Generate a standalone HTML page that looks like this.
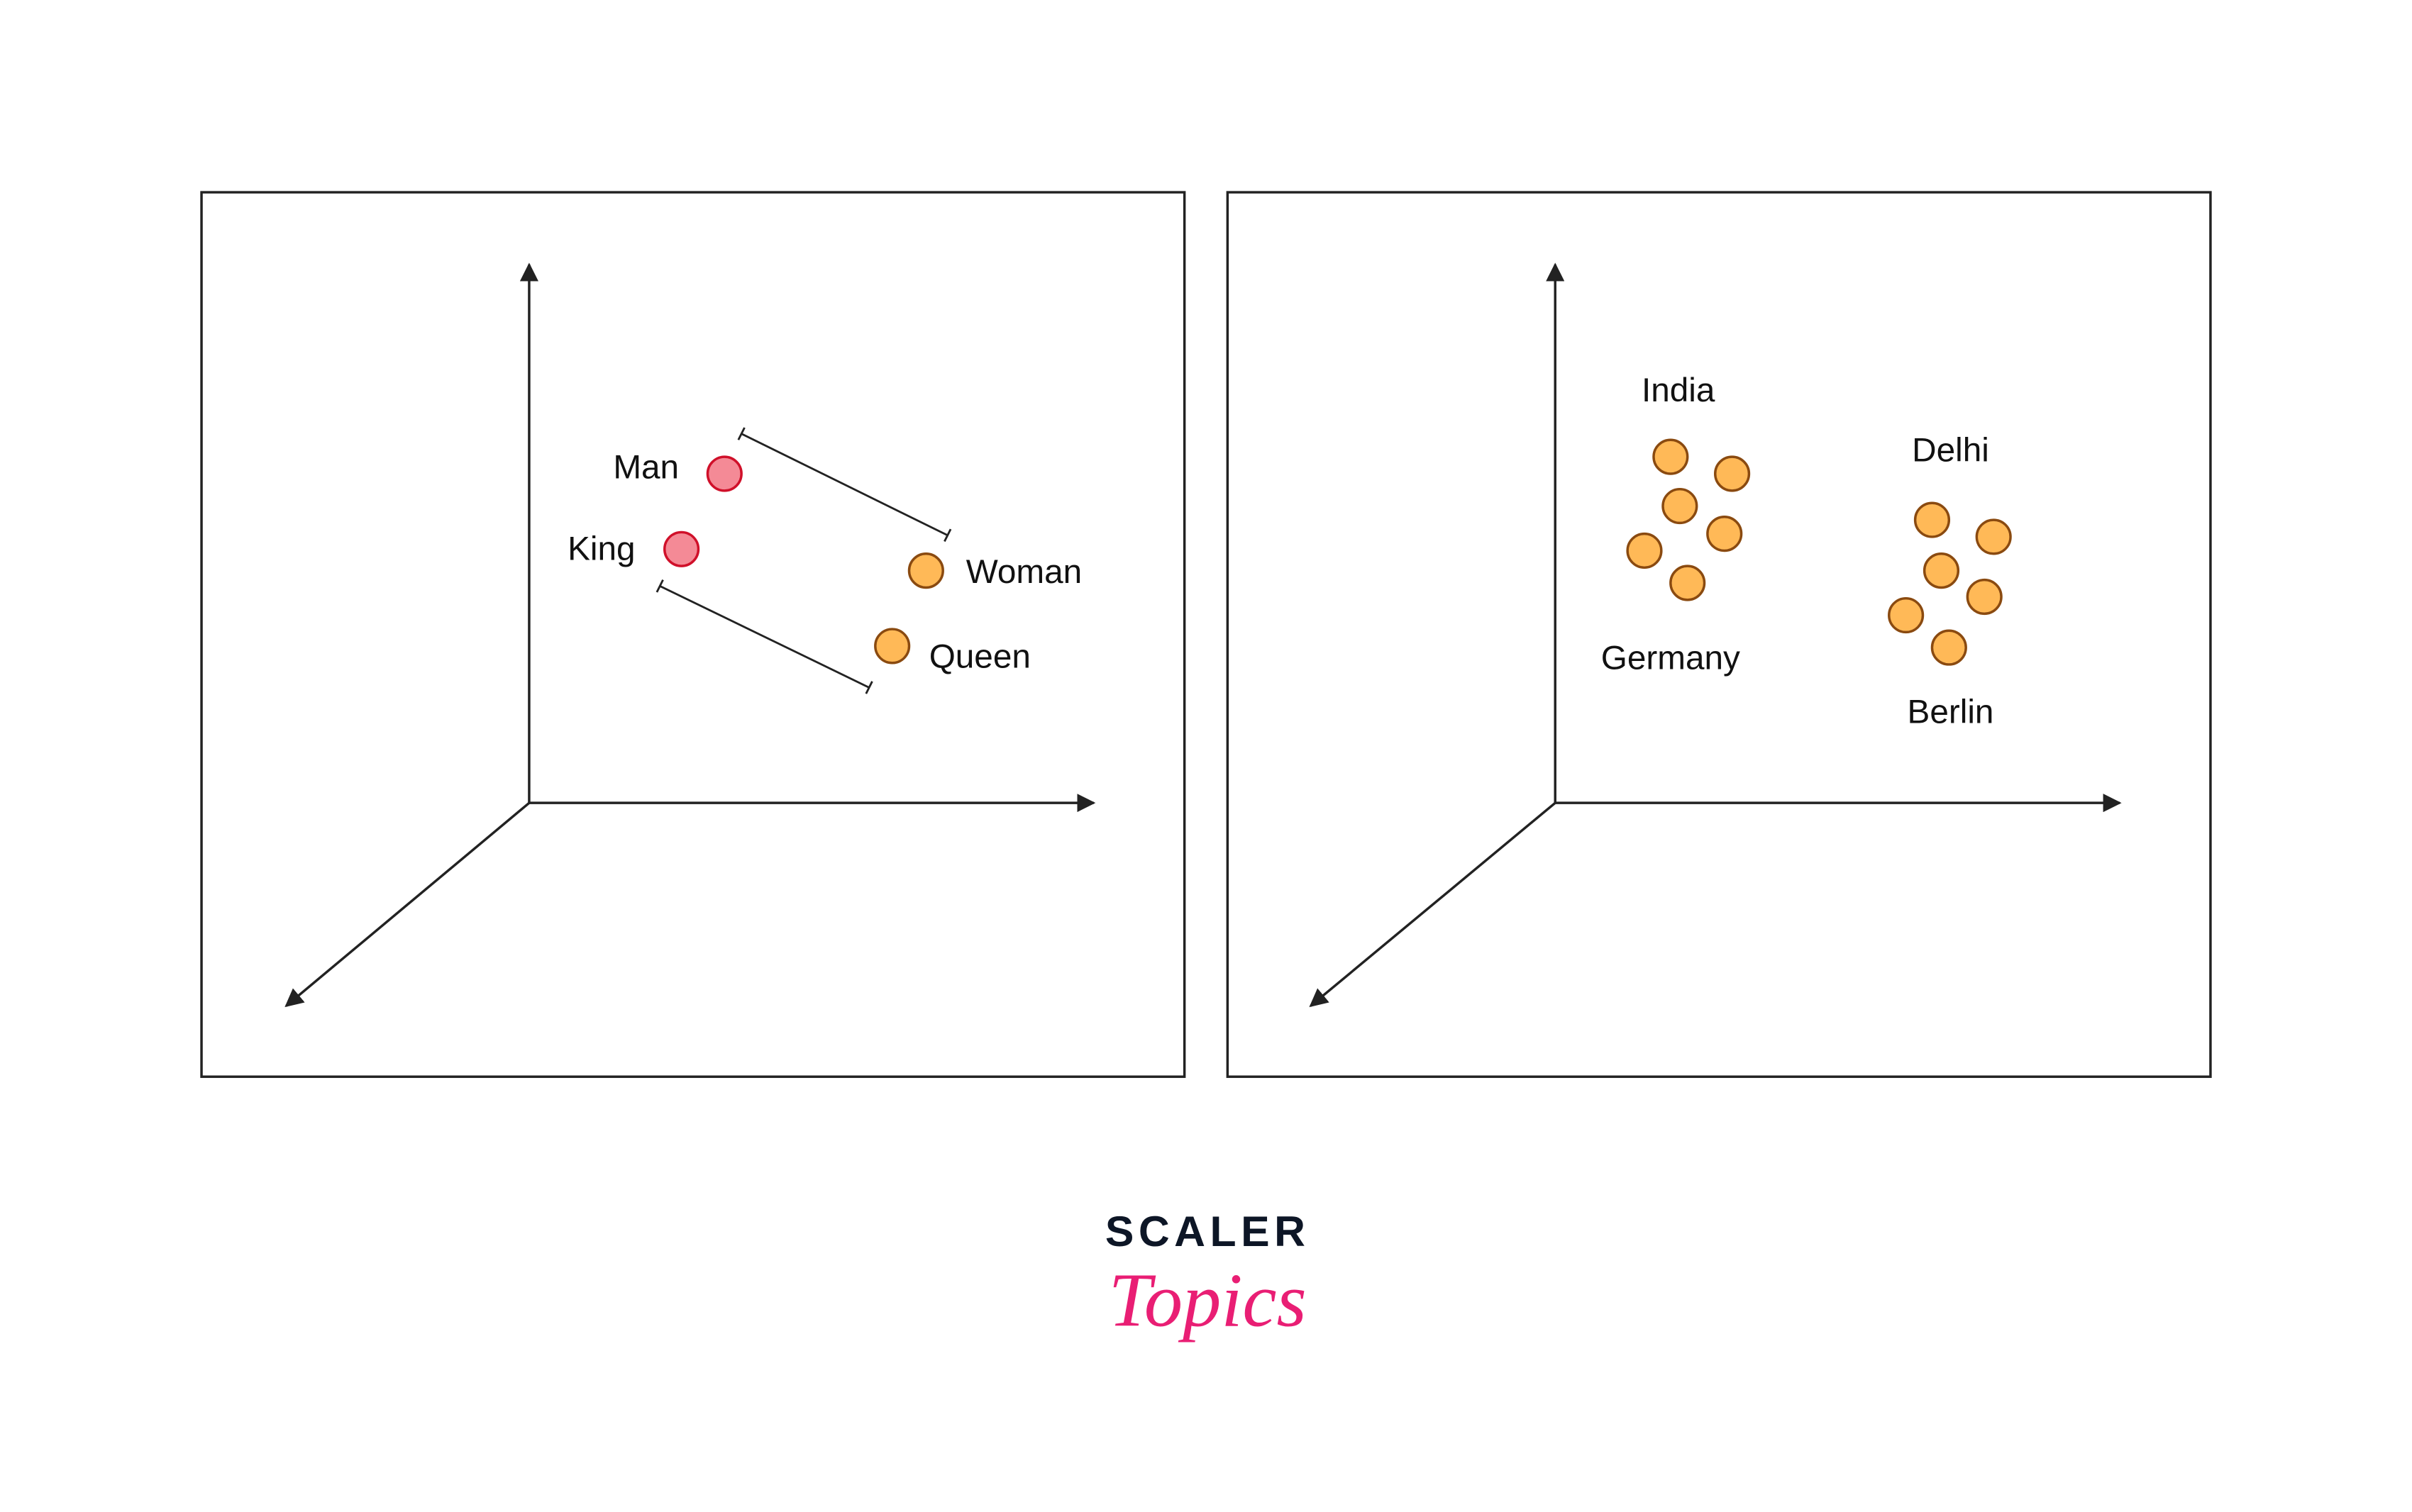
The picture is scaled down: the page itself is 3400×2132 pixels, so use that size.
<!DOCTYPE html>
<html><head><meta charset="utf-8"><style>
html,body{margin:0;padding:0;background:#fff;}
svg{display:block;}
text{font-family:"Liberation Sans",sans-serif;}
</style></head><body>
<svg width="3400" height="2132" viewBox="0 0 1568 983" preserveAspectRatio="none" xmlns="http://www.w3.org/2000/svg">
<defs>
<marker id="ah2" viewBox="0 0 10 10" refX="9" refY="5" markerWidth="12" markerHeight="12" markerUnits="userSpaceOnUse" orient="auto">
<path d="M0,0 L10,5 L0,10 z" fill="#222"/></marker>
</defs>
<rect width="1568" height="983" fill="#fff"/>
<g fill="none" stroke="#222" stroke-width="1.6">
<rect x="131" y="125" width="639" height="575"/>
<rect x="798" y="125" width="639" height="575"/>
<line x1="344" y1="522" x2="344" y2="172" marker-end="url(#ah2)"/>
<line x1="344" y1="522" x2="711" y2="522" marker-end="url(#ah2)"/>
<line x1="344" y1="522" x2="186" y2="654" marker-end="url(#ah2)"/>
<line x1="1011" y1="522" x2="1011" y2="172" marker-end="url(#ah2)"/>
<line x1="1011" y1="522" x2="1378" y2="522" marker-end="url(#ah2)"/>
<line x1="1011" y1="522" x2="852" y2="654" marker-end="url(#ah2)"/>
<g stroke-width="1.3">
<line x1="482" y1="282" x2="616" y2="348"/>
<line x1="480" y1="286" x2="484" y2="278"/>
<line x1="614" y1="352" x2="618" y2="344"/>
<line x1="429" y1="381" x2="565" y2="447"/>
<line x1="427" y1="385" x2="431" y2="377"/>
<line x1="563" y1="451" x2="567" y2="443"/>
</g>
</g>
<g stroke="#d0102a" stroke-width="1.6" fill="#f48a96">
<circle cx="471" cy="308" r="11"/>
<circle cx="443" cy="357" r="11"/>
</g>
<g stroke="#8a4a10" stroke-width="1.6" fill="#ffb957">
<circle cx="602" cy="371" r="11"/>
<circle cx="580" cy="420" r="11"/>
<circle cx="1086" cy="297" r="11"/>
<circle cx="1126" cy="308" r="11"/>
<circle cx="1092" cy="329" r="11"/>
<circle cx="1121" cy="347" r="11"/>
<circle cx="1069" cy="358" r="11"/>
<circle cx="1097" cy="379" r="11"/>
<circle cx="1256" cy="338" r="11"/>
<circle cx="1296" cy="349" r="11"/>
<circle cx="1262" cy="371" r="11"/>
<circle cx="1290" cy="388" r="11"/>
<circle cx="1239" cy="400" r="11"/>
<circle cx="1267" cy="421" r="11"/>
</g>
<g font-size="22" fill="#111">
<text x="420" y="311" text-anchor="middle">Man</text>
<text x="391" y="364" text-anchor="middle">King</text>
<text x="628" y="379">Woman</text>
<text x="604" y="434">Queen</text>
<text x="1091" y="261" text-anchor="middle">India</text>
<text x="1268" y="300" text-anchor="middle">Delhi</text>
<text x="1086" y="435" text-anchor="middle">Germany</text>
<text x="1268" y="470" text-anchor="middle">Berlin</text>
</g>
<text x="785" y="810" text-anchor="middle" font-size="28" font-weight="bold" fill="#0d1626" letter-spacing="3">SCALER</text>
<text x="785" y="862" text-anchor="middle" font-size="50" font-style="italic" fill="#e91e74" style="font-family:'Liberation Serif',serif">Topics</text>
</svg>
</body></html>
